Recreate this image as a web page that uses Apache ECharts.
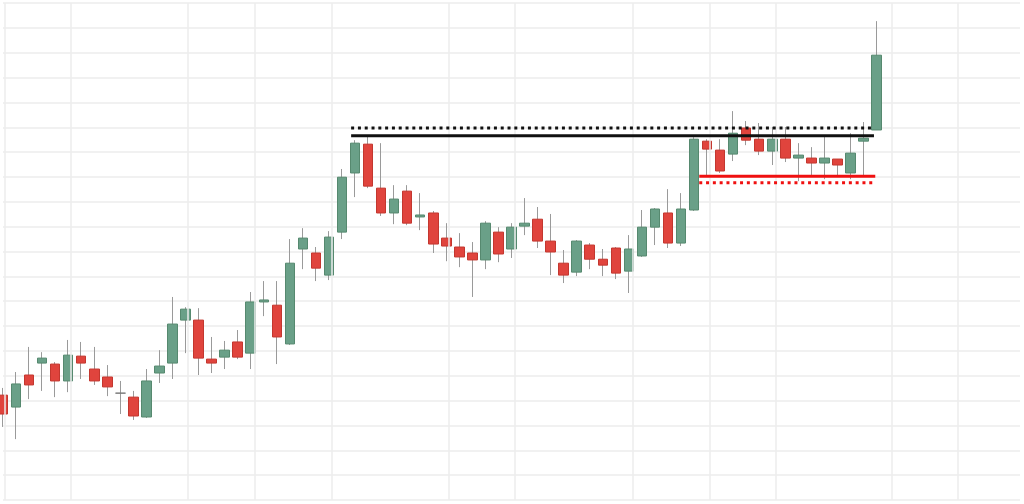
<!DOCTYPE html>
<html>
<head>
<meta charset="utf-8">
<script src="https://cdn.jsdelivr.net/npm/echarts@6/dist/echarts.min.js"></script>
<style>
  html, body { margin: 0; padding: 0; background: #fff; }
  #chart { width: 1024px; height: 504px; }
</style>
</head>
<body>
<div id="chart"></div>
<script>
// daily candles, oldest first
const opens = [42.2, 37.4, 50.3, 55.1, 54.7, 47.9, 57.9, 52.7, 49.5, 43.0,
  41.4, 33.4, 51.1, 55.1, 72.4, 72.4, 56.7, 57.5, 63.6, 59.1,
  79.7, 78.4, 62.8, 101.0, 99.4, 90.5, 107.8, 131.6, 143.2, 125.5,
  115.5, 124.3, 113.9, 115.5, 105.4, 101.8, 99.4, 96.6, 107.8, 101.0,
  110.2, 113.0, 104.2, 95.3, 91.7, 102.6, 96.9, 101.4, 92.1, 98.2,
  109.8, 115.5, 103.4, 116.7, 144.4, 140.8, 139.2, 149.7, 145.2, 140.4,
  145.2, 137.6, 137.6, 135.6, 137.2, 131.6, 144.4, 148.9];
const closes = [34.6, 46.7, 46.3, 57.1, 47.9, 58.3, 55.1, 47.9, 45.5, 43.0,
  33.8, 47.9, 53.9, 70.8, 76.8, 57.1, 55.1, 60.3, 57.5, 79.7,
  80.5, 65.6, 95.3, 105.4, 93.3, 105.8, 129.9, 143.6, 126.3, 115.5,
  121.1, 111.4, 114.7, 103.0, 102.2, 97.8, 96.6, 111.4, 99.0, 109.8,
  111.4, 104.2, 99.8, 90.5, 104.2, 96.9, 94.5, 91.3, 101.0, 109.8,
  117.1, 103.4, 117.1, 145.2, 141.2, 132.4, 147.6, 144.8, 140.4, 145.2,
  137.6, 138.8, 135.6, 137.6, 134.8, 139.6, 145.6, 179.0];
const lows = [29.4, 24.5, 40.6, 43.9, 41.4, 43.4, 48.7, 46.3, 41.8, 34.6,
  32.2, 33.0, 47.1, 48.7, 59.1, 50.3, 51.1, 52.7, 56.7, 52.7,
  74.0, 54.7, 62.4, 92.9, 88.1, 88.5, 105.0, 121.9, 125.5, 114.3,
  111.0, 110.6, 108.6, 99.4, 96.1, 93.7, 81.7, 92.9, 95.7, 97.4,
  106.6, 101.4, 90.5, 87.3, 90.1, 92.9, 90.1, 88.9, 83.3, 97.8,
  102.6, 101.4, 102.2, 116.3, 130.7, 131.6, 136.4, 142.8, 138.8, 134.8,
  136.0, 128.3, 130.7, 129.1, 130.7, 129.1, 130.7, 148.9];
const highs = [45.1, 51.5, 61.6, 59.5, 55.5, 64.4, 63.6, 61.6, 54.3, 47.9,
  43.9, 52.7, 60.3, 81.7, 77.6, 77.2, 65.6, 64.0, 68.4, 83.7,
  88.1, 88.1, 105.0, 109.4, 101.8, 108.2, 133.2, 144.8, 146.8, 143.6,
  126.7, 126.7, 123.5, 116.3, 111.4, 107.4, 103.8, 112.2, 109.8, 111.4,
  121.5, 117.9, 115.1, 100.6, 104.6, 103.4, 101.0, 101.8, 106.6, 116.7,
  117.5, 125.1, 123.5, 146.0, 145.2, 145.2, 156.5, 152.5, 151.7, 150.1,
  150.1, 143.6, 142.0, 146.4, 137.2, 147.6, 152.1, 192.7];

// drawn levels (price) and the day span they cover
const resistance = 146.6;
const resistanceTop = 149.7;
const resistanceDays = [26.7, 66.8];
const support = 130.3;
const supportLow = 127.7;
const supportDays = [53.4, 66.9];

// vertical grid columns (day position) as in the screenshot
const gridCols = [0.15, 5.21, 14.19, 19.33, 25.23, 34.2, 39.26, 48.31, 54.22, 59.28, 68.17, 73.24];

const totalDays = 79; // axis keeps empty room to the right
const days = [];
for (let i = 0; i < totalDays; i++) days.push('D' + (i + 1));

const wickData = opens.map((o, i) => [o, closes[i], lows[i], highs[i]]);
const bodyData = opens.map((o, i) => [o, closes[i], Math.min(o, closes[i]), Math.max(o, closes[i])]);

function level(name, y, span, color, type) {
  return {
    name: name,
    type: 'line',
    xAxisIndex: 1,
    data: [[span[0], y], [span[1], y]],
    symbol: 'none',
    silent: true,
    z: 5,
    lineStyle: {color: color, width: 3, type: type}
  };
}

const chart = echarts.init(document.getElementById('chart'));
chart.setOption({
  animation: false,
  backgroundColor: '#fff',
  grid: {left: 3, right: 4, top: 3, bottom: 4},
  xAxis: [
    {type: 'category', data: days, boundaryGap: false, show: false},
    {type: 'value', min: 0, max: totalDays - 1, show: false}
  ],
  yAxis: {
    type: 'value',
    min: 0,
    max: 200,
    interval: 10,
    axisLine: {show: false},
    axisTick: {show: false},
    axisLabel: {show: false},
    splitLine: {lineStyle: {color: '#ececec', width: 1.5}}
  },
  series: [
    {
      name: 'grid',
      type: 'line',
      xAxisIndex: 1,
      data: [],
      silent: true,
      z: 0,
      markLine: {
        silent: true,
        symbol: ['none', 'none'],
        label: {show: false},
        lineStyle: {color: '#ececec', width: 1.5, type: 'solid'},
        data: gridCols.map(v => ({xAxis: v}))
      }
    },
    {
      name: 'wick',
      type: 'candlestick',
      data: wickData,
      barWidth: 1,
      clip: false,
      z: 2,
      itemStyle: {
        color: '#9a9a9a', color0: '#9a9a9a',
        borderColor: '#9a9a9a', borderColor0: '#9a9a9a', borderColorDoji: '#9a9a9a',
        borderWidth: 1
      }
    },
    {
      name: 'body',
      type: 'candlestick',
      data: bodyData,
      barWidth: 10,
      clip: false,
      z: 3,
      itemStyle: {
        color: '#6aa088', color0: '#e0443d',
        borderColor: '#56896f', borderColor0: '#c3372f', borderColorDoji: '#7a7a7a',
        borderWidth: 1
      }
    },
    level('resistance top', resistanceTop, resistanceDays, '#111', [3, 3.8]),
    level('resistance', resistance, resistanceDays, '#111', 'solid'),
    level('support', support, supportDays, '#f01010', 'solid'),
    level('support low', supportLow, supportDays, '#f01010', [3, 3.8])
  ]
});

window.addEventListener('resize', function () {
  chart.resize();
});
</script>
</body>
</html>
